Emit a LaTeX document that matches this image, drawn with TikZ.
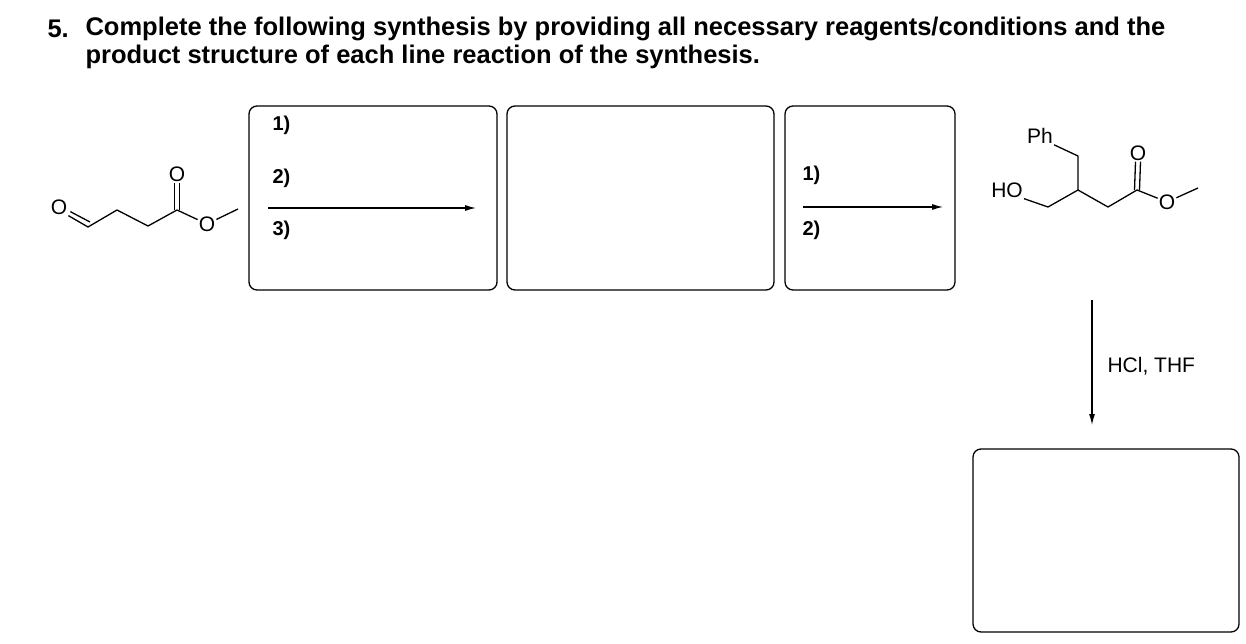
\documentclass[tikz,border=0pt]{standalone}
\usepackage{fontspec}
\setmainfont{Liberation Sans}
\usetikzlibrary{calc,arrows.meta}
\begin{document}
\begin{tikzpicture}[x=1pt,y=-1pt,
  box/.style={draw,rounded corners=8pt,line width=1.3pt},
  bond/.style={line width=1.3pt},
  atom/.style={font=\fontsize{21}{21}\selectfont,inner sep=1pt},
  lab/.style={font=\fontsize{20}{20}\selectfont\bfseries,anchor=west},
  arr/.style={-{Latex[length=11pt,width=6pt]},line width=1.2pt}]
\useasboundingbox (0,0) rectangle (1246,644);
\node[anchor=west,font=\fontsize{25.5}{25.5}\selectfont\bfseries] (t0) at (44,29) {5.};
\node[anchor=west,font=\fontsize{25.5}{25.5}\selectfont\bfseries] (t1) at (82,29) {Complete the following synthesis by providing all necessary reagents/conditions and the};
\node[anchor=west,font=\fontsize{25.5}{25.5}\selectfont\bfseries] (t2) at (82,57) {product structure of each line reaction of the synthesis.};
% boxes
\draw[box] (249,106) rectangle (497,290);
\draw[box] (507,106) rectangle (774,290);
\draw[box] (785,106) rectangle (955,290);
\draw[box] (973,449) rectangle (1239,632);
\node[lab] (a1) at (269,125) {1)};
\node[lab] (a2) at (269,178) {2)};
\node[lab] (a3) at (269,230) {3)};
\node[lab] (b1) at (799,175) {1)};
\node[lab] (b2) at (799,230) {2)};
\coordinate (p1) at (268,208); \coordinate (p2) at (476,208);
\draw[arr] (p1) -- (p2);
\coordinate (q1) at (803,207); \coordinate (q2) at (943,207);
\draw[arr] (q1) -- (q2);
\coordinate (v1) at (1092,300); \coordinate (v2) at (1092,425);
\draw[arr] (v1) -- (v2);
\node[anchor=west,font=\fontsize{21}{21}\selectfont] (hcl) at (1104,366) {HCl, THF};
% left molecule
\node[atom] (lo) at (59,207) {O};
\node[atom] (lo2) at (177,174) {O};
\node[atom] (lo3) at (207,224) {O};
\coordinate (l1) at (88,227); \coordinate (l2) at (117,210);
\coordinate (l3) at (148,226); \coordinate (l4) at (177,210);
\coordinate (l5) at (238,209);
\draw[bond] (lo.south east) -- (l1) -- (l2) -- (l3) -- (l4) -- (lo3) -- (l5);
\draw[bond] ($(lo.south east)+(2,-4)$) -- ($(l1)+(2,-5)$);
\draw[bond] ([xshift=-2.5pt]l4) -- ([xshift=-2.5pt]lo2.south);
\draw[bond] ([xshift=2.5pt]l4) -- ([xshift=2.5pt]lo2.south);
% right molecule
\node[atom] (ph) at (1040,136) {Ph};
\node[atom] (ho) at (1007,190) {HO};
\node[atom] (ro2) at (1138,153) {O};
\node[atom] (ro3) at (1167,202) {O};
\coordinate (r1) at (1078,156); \coordinate (r2) at (1078,190);
\coordinate (r3) at (1048,207); \coordinate (r4) at (1108,207);
\coordinate (r5) at (1137,190); \coordinate (r6) at (1198,188);
\draw[bond] (ph.south east) -- (r1) -- (r2) -- (r4) -- (r5) -- (ro3) -- (r6);
\draw[bond] (r2) -- (r3) -- (ho.south east);
\draw[bond] ([xshift=-2.5pt]r5) -- ([xshift=-2.5pt]ro2.south);
\draw[bond] ([xshift=2.5pt]r5) -- ([xshift=2.5pt]ro2.south);
\end{tikzpicture}
\end{document}
